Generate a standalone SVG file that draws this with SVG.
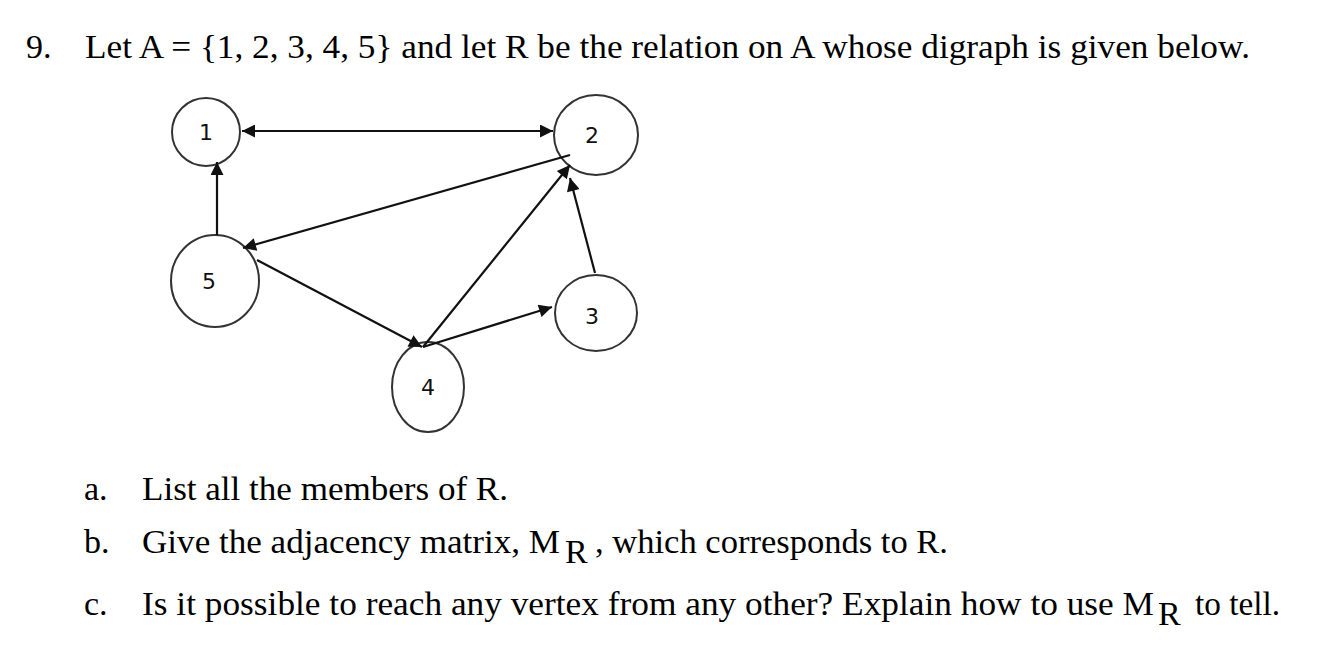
<svg xmlns="http://www.w3.org/2000/svg" width="1320" height="646" viewBox="0 0 1320 646">
<style>
.t{font-family:"Liberation Serif",serif;font-size:34px;fill:#000}
.n ellipse{fill:#fff;stroke:#333;stroke-width:2}
.n text{font-family:"DejaVu Sans",sans-serif;font-size:22px;fill:#111;text-anchor:middle}
.e line{stroke:#111;stroke-width:2.2;marker-end:url(#a)}
</style>
<defs><marker id="a" viewBox="0 0 10 10" refX="10" refY="5" markerWidth="15" markerHeight="13" markerUnits="userSpaceOnUse" orient="auto-start-reverse"><path d="M0,0L10,5L0,10z" fill="#111"/></marker></defs>
<rect width="1320" height="646" fill="#fff"/>
<text class="t" x="26" y="58">9.</text>
<text class="t" x="85" y="58" textLength="1165" lengthAdjust="spacingAndGlyphs">Let A = {1, 2, 3, 4, 5} and let R be the relation on A whose digraph is given below.</text>
<g id="n1" class="n"><ellipse cx="206" cy="132" rx="34" ry="34"/><text x="206" y="140">1</text></g>
<g id="n2" class="n"><ellipse cx="596" cy="135" rx="42" ry="40"/><text x="592" y="143">2</text></g>
<g id="n5" class="n"><ellipse cx="215" cy="281" rx="44" ry="46"/><text x="209" y="289">5</text></g>
<g id="n3" class="n"><ellipse cx="596" cy="313" rx="41" ry="38"/><text x="592" y="324">3</text></g>
<g id="n4" class="n"><ellipse cx="428" cy="387" rx="36" ry="45"/><text x="428" y="395">4</text></g>
<g id="edges" class="e">
<line x1="553" y1="131" x2="242" y2="131" style="marker-start:url(#a)"/>
<line x1="217" y1="235" x2="217" y2="162"/>
<line x1="570" y1="155" x2="243" y2="248"/>
<line x1="257" y1="260" x2="422" y2="347"/>
<line x1="423" y1="347" x2="570" y2="165"/>
<line x1="423" y1="347" x2="552" y2="307"/>
<line x1="595" y1="273" x2="570" y2="178"/>
</g>
<text class="t" x="84" y="500">a.</text>
<text class="t" x="142" y="500" textLength="366" lengthAdjust="spacingAndGlyphs">List all the members of R.</text>
<text class="t" x="84" y="553">b.</text>
<text class="t" x="142" y="553" textLength="418" lengthAdjust="spacingAndGlyphs">Give the adjacency matrix, M</text>
<text class="t" x="565" y="563">R</text>
<text class="t" x="595" y="553" textLength="353" lengthAdjust="spacingAndGlyphs">, which corresponds to R.</text>
<text class="t" x="84" y="615">c.</text>
<text class="t" x="142" y="615" textLength="1012" lengthAdjust="spacingAndGlyphs">Is it possible to reach any vertex from any other?  Explain how to use M</text>
<text class="t" x="1158" y="625">R</text>
<text class="t" x="1195" y="615" textLength="85" lengthAdjust="spacingAndGlyphs">to tell.</text>
</svg>
